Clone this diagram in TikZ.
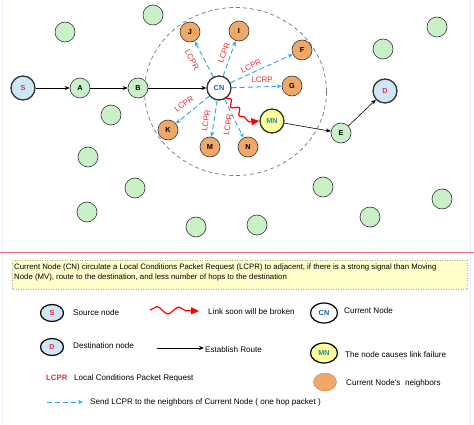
\documentclass[tikz,border=0pt]{standalone}
\usepackage{fontspec}
\setmainfont{Liberation Sans}
\usetikzlibrary{shapes.geometric,arrows.meta,decorations.pathmorphing}
\definecolor{ngreen}{HTML}{C9F0C6}
\definecolor{norange}{HTML}{F0A868}
\definecolor{nblue}{HTML}{CFE6F7}
\definecolor{nyellow}{HTML}{FFFF99}
\definecolor{acyan}{HTML}{2AA8E0}
\definecolor{lred}{HTML}{E8303A}
\definecolor{cntext}{HTML}{2060B0}
\definecolor{mntext}{HTML}{2E8B9A}
\definecolor{ringc}{HTML}{6A7890}
\definecolor{boxfill}{HTML}{FFFFCC}
\definecolor{sepred}{HTML}{E87080}
\begin{document}
\begin{tikzpicture}[x=1pt,y=-1pt,
  nbase/.style={circle, draw=black!80, line width=0.6pt, minimum size=20pt, inner sep=0pt,
    font=\fontsize{7.3}{8}\selectfont\bfseries},
  gnode/.style={nbase, fill=ngreen},
  onode/.style={nbase, fill=norange},
  bignode/.style={nbase, minimum size=24pt, line width=1.3pt},
  lgnode/.style={ellipse, draw=black, line width=1.2pt, minimum width=25pt, minimum height=19pt, inner sep=0pt,
    font=\fontsize{7.3}{8}\selectfont\bfseries},
  route/.style={draw=black, line width=0.6pt, -{Stealth[length=5pt,width=4pt]}},
  lcpr/.style={draw=acyan, line width=0.9pt, dash pattern=on 5pt off 3pt, -{Stealth[length=5pt,width=4pt]}},
  lbl/.style={text=lred, font=\fontsize{8}{9}\selectfont, inner sep=0pt},
  legtxt/.style={anchor=west, font=\fontsize{8.1}{9}\selectfont, inner sep=0pt},
  wavy/.style={draw=red, line width=1.2pt, decorate,
    decoration={snake, amplitude=3pt, segment length=12pt, post length=2pt}}
]
\useasboundingbox (0,0) rectangle (474,425);
\fill[white] (0,0) rectangle (474,425);
\draw[blue!8, line width=0.8pt] (2,0) -- (2,425);
\draw[blue!8, line width=0.8pt] (470,0) -- (470,425);

% range ellipse
\draw[ringc, line width=0.7pt, dash pattern=on 4pt off 3pt] (235.5,91.5) ellipse [x radius=91, y radius=84];

% background green nodes
\node[gnode] (g1) at (65,32) {};
\node[gnode] (g2) at (153,15) {};
\node[gnode] (g3) at (111,115) {};
\node[gnode] (g4) at (88,157) {};
\node[gnode] (g5) at (135,188) {};
\node[gnode] (g6) at (87,212) {};
\node[gnode] (g7) at (196,227) {};
\node[gnode] (g8) at (257,225) {};
\node[gnode] (g9) at (323,187) {};
\node[gnode] (g10) at (370,217) {};
\node[gnode] (g11) at (442,199) {};
\node[gnode] (g12) at (383,49) {};
\node[gnode] (g13) at (437,27) {};

% route nodes
\node[bignode, fill=nblue, text=lred] (S) at (23,88) {S};
\node[gnode] (A) at (80,88) {A};
\node[gnode] (B) at (138,88) {B};
\node[bignode, fill=white, text=cntext] (CN) at (219,88) {CN};
\node[bignode, fill=nyellow, text=mntext] (MN) at (272,121) {MN};
\node[gnode] (E) at (341,133) {E};
\node[bignode, fill=nblue, text=lred] (D) at (385,91) {D};

% neighbours
\node[onode] (J) at (190,32) {J};
\node[onode] (I) at (239,31) {I};
\node[onode] (F) at (302,50) {F};
\node[onode] (G) at (292,86) {G};
\node[onode] (K) at (168,130) {K};
\node[onode] (M) at (210,147) {M};
\node[onode] (N) at (248,147) {N};

% route arrows
\draw[route] (S) -- (A);
\draw[route] (A) -- (B);
\draw[route] (B) -- (CN);
\draw[route] (MN) -- (E);
\draw[route] (E) -- (D);

% LCPR arrows
\draw[lcpr] (CN) -- (J);
\draw[lcpr] (CN) -- (I);
\draw[lcpr] (CN) -- (F);
\draw[lcpr] (CN) -- (G);
\draw[lcpr] (CN) -- (K);
\draw[lcpr] (CN) -- (M);
\draw[lcpr] (CN) -- (N);

\node[lbl, rotate=-63] (lJ) at (192,60) {LCPR};
\node[lbl, rotate=70] (lI) at (224,53) {LCPR};
\node[lbl, rotate=25] (lF) at (251,66) {LCPR};
\node[lbl] (lG) at (262,80) {LCRP};
\node[lbl, rotate=35] (lK) at (184,104) {LCPR};
\node[lbl, rotate=80] (lM) at (206,121) {LCPR};
\node[lbl, rotate=80] (lN) at (228,125) {LCPR};

% link soon broken
\coordinate (wv) at (249,122);
\draw[wavy] (CN.-55) -- (wv);
\draw[red, line width=1.2pt, -{Triangle[length=8pt,width=7pt]}] (wv) -- (MN.west);

% separator
\draw[sepred, line width=0.8pt] (0,252) -- (474,252);

% info box
\draw[gray!70, fill=boxfill, line width=0.5pt, dotted] (12,260) rectangle (467,289);
\node[anchor=north west, align=left, inner sep=0pt, font=\fontsize{7.8}{10}\selectfont] (info) at (14,264)
 {Current Node (CN) circulate a Local Conditions Packet Request (LCPR) to adjacent, if there is a strong signal than Moving\\
  Node (MV), route to the destination, and less number of hops to the destination};

% legend
\node[lgnode, fill=nblue, text=lred, minimum width=23pt, minimum height=17pt] (LS) at (52,313) {S};
\node[legtxt] (tS) at (73,313) {Source node};
\node[lgnode, fill=nblue, text=lred, minimum width=23pt, minimum height=17pt] (LD) at (52,347) {D};
\node[legtxt] (tD) at (73,346) {Destination node};
\node[anchor=west, inner sep=0pt, text=lred, font=\fontsize{7.8}{9}\selectfont\bfseries] (tL) at (46,378) {LCPR};
\node[legtxt] (tL2) at (74,378) {Local Conditions Packet Request};
\coordinate (ls1) at (47,402);
\coordinate (ls2) at (83,402);
\draw[lcpr] (ls1) -- (ls2);
\node[legtxt] (tLs) at (90,402) {Send LCPR to the neighbors of Current Node ( one hop packet )};

\coordinate (lw1) at (150,310);
\coordinate (lw2) at (199,311);
\draw[draw=red, line width=1.2pt, decorate,
  decoration={snake, amplitude=3.5pt, segment length=22pt, post length=6pt},
  -{Triangle[length=8pt,width=7pt]}] (lw1) -- (lw2);
\node[legtxt] (tW) at (208,312) {Link soon will be broken};
\coordinate (lr1) at (157,348);
\coordinate (lr2) at (204,348);
\draw[route] (lr1) -- (lr2);
\node[legtxt] (tR) at (205,350) {Establish Route};

\node[lgnode, fill=white, text=cntext, minimum width=27pt, minimum height=20pt] (LCN) at (324,313) {CN};
\node[legtxt] (tCN) at (344,311) {Current Node};
\node[lgnode, fill=nyellow, text=mntext, minimum width=27pt, minimum height=20pt] (LMN) at (324,353) {MN};
\node[legtxt] (tMN) at (345,355) {The node causes link failure};
\node[ellipse, fill=norange, draw=norange!80!black, line width=0.4pt, minimum width=23pt, minimum height=18pt] (LO) at (325,382) {};
\node[legtxt] (tO) at (346,383) {Current Node’s\ \ neighbors};
\end{tikzpicture}
\end{document}
